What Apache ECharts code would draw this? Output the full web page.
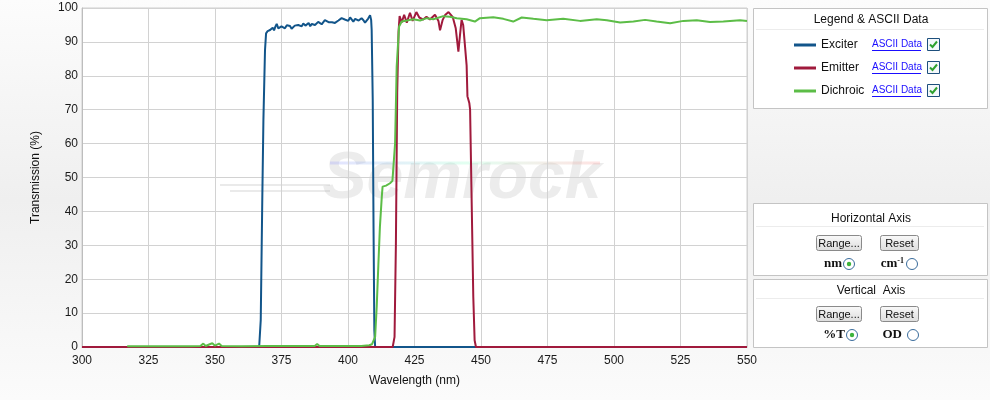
<!DOCTYPE html>
<html>
<head>
<meta charset="utf-8">
<script src="https://cdn.jsdelivr.net/npm/echarts@6/dist/echarts.min.js"></script>
<style>
html,body{margin:0;padding:0;}
#chart{width:990px;height:400px;}
</style>
</head>
<body>
<div id="chart"></div>
<script>
// ---- Data (wavelength nm, transmission %) ----
var seriesNames = ['Exciter', 'Emitter', 'Dichroic'];
var xTicks = [300, 325, 350, 375, 400, 425, 450, 475, 500, 525, 550];
var yTicks = [0, 10, 20, 30, 40, 50, 60, 70, 80, 90, 100];

var exciterWl = [300, 366.6, 367.2, 367.8, 368.2, 368.8, 369.2, 369.8, 370.3, 370.7, 371.2, 371.7, 372.2, 372.7, 373.2, 373.8, 374.4, 375.0, 375.7, 376.3, 377.0, 377.6, 378.2, 378.8, 379.4, 380.0, 380.6, 381.3, 382.0, 382.6, 383.2, 384.0, 384.5, 385.2, 385.8, 386.4, 387.0, 387.6, 388.2, 388.8, 389.5, 390.1, 390.7, 391.3, 392.0, 392.7, 393.3, 394.0, 394.5, 395.1, 395.7, 396.4, 397.0, 397.6, 398.2, 398.8, 399.5, 400.1, 400.8, 401.4, 402.0, 402.7, 403.3, 404.0, 404.6, 405.1, 405.8, 406.4, 407.0, 407.6, 408.3, 408.7, 408.9, 409.3, 409.6, 409.9, 410.2, 550];
var exciterT = [0, 0, 8, 45, 67, 87.6, 92.5, 93.2, 92.8, 93.5, 93.0, 94.2, 93.4, 94.5, 95.3, 94.0, 93.7, 94.6, 94.7, 94.0, 94.9, 94.5, 94.7, 93.9, 94.0, 94.8, 94.5, 95.0, 95.3, 94.6, 95.4, 94.8, 95.0, 95.6, 94.6, 95.3, 95.7, 95.0, 94.7, 95.9, 96.3, 95.2, 95.3, 96.4, 96.5, 95.8, 96.1, 95.8, 96.0, 95.6, 95.7, 96.3, 96.8, 97.0, 96.5, 96.6, 96.7, 96.2, 97.2, 96.8, 96.0, 96.8, 97.2, 96.3, 96.8, 97.0, 96.4, 95.7, 96.2, 96.9, 97.9, 96.5, 93.5, 72.8, 35, 5, 0, 0];

var emitterWl = [300, 416.8, 417.5, 418.0, 418.5, 419.0, 419.4, 420.2, 421.1, 422.1, 423.3, 424.3, 425.7, 426.8, 428.3, 429.5, 430.8, 432.7, 434.0, 434.6, 435.6, 436.5, 437.8, 439.4, 440.5, 441.5, 442.1, 442.7, 443.3, 444.0, 444.6, 444.9, 445.6, 445.9, 446.5, 447.1, 447.6, 448.1, 550];
var emitterT = [0, 0, 3, 30, 75, 93, 97.6, 95.7, 98.0, 95.7, 98.6, 96.2, 98.8, 97.2, 96.6, 97.4, 96.6, 98.0, 96.2, 93.4, 96.5, 97.9, 98.8, 97.3, 94.0, 87.1, 92.0, 96.5, 95.0, 88.6, 83.0, 74.0, 72.0, 70.0, 42.5, 14.8, 2.0, 0, 0];

var dichroicWl = [317, 340, 344.5, 345.6, 346.5, 348.0, 349.0, 350.0, 351.5, 352.5, 360, 370, 387.5, 388.4, 389.3, 405, 408, 409.0, 409.5, 410.2, 410.8, 411.4, 412.0, 412.7, 413.0, 414.3, 415.8, 416.7, 417.7, 418.3, 419.2, 420.2, 422.1, 424.5, 427.1, 429.6, 432.1, 435.8, 438.3, 440.9, 444.6, 447.7, 449.6, 454.6, 458.4, 462.1, 465.3, 469.7, 474.7, 480.9, 487.2, 493.5, 497.3, 502.3, 507.3, 511.7, 516.0, 521.1, 526.1, 531.1, 536.1, 541.1, 547.4, 550];
var dichroicT = [0.2, 0.2, 0.3, 1.0, 0.3, 0.8, 1.1, 0.4, 1.0, 0.3, 0.2, 0.3, 0.3, 0.9, 0.3, 0.3, 0.5, 0.8, 1.2, 3, 12, 24, 35.5, 44.3, 47.3, 47.6, 48.3, 49.0, 60, 82.7, 94.5, 96.0, 96.3, 96.7, 96.3, 97.0, 96.7, 97.6, 97.4, 97.0, 96.7, 96.0, 97.0, 97.3, 96.8, 96.0, 97.2, 96.8, 96.4, 96.8, 96.2, 96.7, 96.4, 95.7, 96.0, 96.5, 96.0, 95.5, 96.2, 96.4, 95.9, 96.0, 96.4, 96.2];

var colors = ['#12558a', '#a01a3c', '#5cbd47'];

function zip(a, b) { return a.map(function (v, i) { return [v, b[i]]; }); }

var FONT = 'Liberation Sans';
var SERIF = 'Liberation Serif';

function panel(x, y, w, h) {
  return { type: 'rect', shape: { x: x + 0.5, y: y + 0.5, width: w, height: h }, style: { fill: '#fff', stroke: '#c4c4c4', lineWidth: 1 }, z: 1 };
}
function hline(x1, x2, y, col) {
  return { type: 'line', shape: { x1: x1, y1: y + 0.5, x2: x2, y2: y + 0.5 }, style: { stroke: col, lineWidth: 1 }, z: 2 };
}
function txt(x, y, s, opts) {
  var st = { text: s, x: x, y: y, fill: opts.fill || '#111', font: opts.font || ('12px ' + FONT), textAlign: opts.align || 'center', textVerticalAlign: 'middle' };
  if (opts.rich) st.rich = opts.rich;
  return { type: 'text', style: st, z: 3 };
}
function button(x, y, w, h, label) {
  return [
    { type: 'rect', shape: { x: x + 0.5, y: y + 0.5, width: w, height: h, r: 2 },
      style: { fill: { type: 'linear', x: 0, y: 0, x2: 0, y2: 1, colorStops: [{ offset: 0, color: '#fafafa' }, { offset: 1, color: '#dcdcdc' }] }, stroke: '#8a8a8a', lineWidth: 1 }, z: 2 },
    txt(x + w / 2 + 0.5, y + h / 2 + 1, label, { font: '11px ' + FONT, fill: '#111' })
  ];
}
function radio(cx, cy, on) {
  var arr = [{ type: 'circle', shape: { cx: cx, cy: cy, r: 5.5 }, style: { fill: '#fff', stroke: '#3a6c9c', lineWidth: 1 }, z: 2 }];
  if (on) arr.push({ type: 'circle', shape: { cx: cx, cy: cy, r: 2.2 }, style: { fill: '#3cb43c' }, z: 3 });
  return arr;
}
function checkbox(x, y) {
  return [
    { type: 'rect', shape: { x: x + 0.5, y: y + 0.5, width: 12, height: 12 }, style: { fill: '#f4f8fb', stroke: '#1d4f7c', lineWidth: 1 }, z: 2 },
    { type: 'polyline', shape: { points: [[x + 3, y + 6.5], [x + 5.5, y + 9], [x + 10, y + 3.5]] }, style: { stroke: '#2fa12f', lineWidth: 2, fill: null }, z: 3 }
  ];
}
function link(x, y) {
  return [
    txt(x, y, 'ASCII Data', { font: '10px ' + FONT, fill: '#1a0dff', align: 'left' }),
    { type: 'line', shape: { x1: x, y1: y + 6.5, x2: x + 49, y2: y + 6.5 }, style: { stroke: '#1a0dff', lineWidth: 1 }, z: 3 }
  ];
}

var graphics = [];
// watermark
graphics.push({ type: 'text', style: { text: 'Semrock', x: 462, y: 180, font: 'italic bold 66px ' + FONT, fill: 'rgba(170,170,170,0.22)', textAlign: 'center', textVerticalAlign: 'middle' }, z: 0, silent: true });
graphics.push({ type: 'line', shape: { x1: 330, y1: 163, x2: 600, y2: 163 }, style: { stroke: { type: 'linear', x: 0, y: 0, x2: 1, y2: 0, colorStops: [{ offset: 0, color: 'rgba(140,140,255,0.25)' }, { offset: 0.5, color: 'rgba(140,255,200,0.25)' }, { offset: 1, color: 'rgba(255,140,140,0.25)' }] }, lineWidth: 3 }, z: 0, silent: true });
graphics.push({ type: 'line', shape: { x1: 220, y1: 185, x2: 330, y2: 185 }, style: { stroke: 'rgba(170,170,170,0.25)', lineWidth: 2 }, z: 0, silent: true });
graphics.push({ type: 'line', shape: { x1: 230, y1: 191, x2: 330, y2: 191 }, style: { stroke: 'rgba(170,170,170,0.25)', lineWidth: 2 }, z: 0, silent: true });

// legend panel
graphics.push(panel(753, 8, 234, 100));
graphics.push(hline(756, 984, 29, '#ececec'));
graphics.push(txt(871, 20, 'Legend & ASCII Data', { font: '12px ' + FONT, fill: '#111' }));
[44, 67, 90].forEach(function (cy) {
  link(872, cy).forEach(function (g) { graphics.push(g); });
  checkbox(927, cy - 6).forEach(function (g) { graphics.push(g); });
});

// horizontal axis panel
graphics.push(panel(753, 203, 234, 72));
graphics.push(hline(756, 984, 226, '#ececec'));
graphics.push(txt(871, 219, 'Horizontal Axis', { font: '12px ' + FONT }));
button(816, 235, 45, 15, 'Range...').forEach(function (g) { graphics.push(g); });
button(880, 235, 38, 15, 'Reset').forEach(function (g) { graphics.push(g); });
graphics.push(txt(842, 264, 'nm', { font: 'bold 13px ' + SERIF, align: 'right' }));
radio(849, 264, true).forEach(function (g) { graphics.push(g); });
graphics.push(txt(904, 264, 'cm{s|-1}', { font: 'bold 13px ' + SERIF, align: 'right', rich: { s: { fontSize: 8, fontWeight: 'bold', fontFamily: SERIF, verticalAlign: 'top', padding: [0, 0, 6, 0], fill: '#111' } } }));
radio(912, 264, false).forEach(function (g) { graphics.push(g); });

// vertical axis panel
graphics.push(panel(753, 279, 234, 68));
graphics.push(hline(756, 984, 298, '#ececec'));
graphics.push(txt(871, 291, 'Vertical  Axis', { font: '12px ' + FONT }));
button(816, 306, 45, 15, 'Range...').forEach(function (g) { graphics.push(g); });
button(880, 306, 38, 15, 'Reset').forEach(function (g) { graphics.push(g); });
graphics.push(txt(845, 335, '%T', { font: 'bold 13px ' + SERIF, align: 'right' }));
radio(852, 335, true).forEach(function (g) { graphics.push(g); });
graphics.push(txt(902, 335, 'OD', { font: 'bold 13px ' + SERIF, align: 'right' }));
radio(913, 335, false).forEach(function (g) { graphics.push(g); });

var chart = echarts.init(document.getElementById('chart'), null, { renderer: 'canvas' });
chart.setOption({
  animation: false,
  backgroundColor: { type: 'linear', x: 0, y: 0, x2: 0, y2: 1, colorStops: [{ offset: 0, color: '#fcfcfc' }, { offset: 0.5, color: '#efefef' }, { offset: 1, color: '#fbfbfb' }] },
  color: colors,
  textStyle: { fontFamily: FONT },
  grid: { left: 82, right: 243, top: 8, bottom: 53, show: true, backgroundColor: '#fff', borderColor: '#cfcfcf', borderWidth: 1 },
  legend: {
    data: seriesNames, orient: 'vertical', left: 794, top: 38, padding: 0, itemWidth: 22, itemHeight: 3, itemGap: 9,
    icon: 'rect', selectedMode: false,
    textStyle: { fontSize: 12, color: '#111', fontFamily: FONT, lineHeight: 14, padding: [0, 0, 0, 0] }
  },
  xAxis: {
    type: 'value', min: xTicks[0], max: xTicks[xTicks.length - 1], interval: 25,
    name: 'Wavelength (nm)', nameLocation: 'middle', nameGap: 28,
    nameTextStyle: { fontSize: 12, color: '#111', fontFamily: FONT },
    axisLine: { show: true, lineStyle: { color: '#bdbdbd' } },
    axisTick: { show: false },
    axisLabel: { fontSize: 12, color: '#1a1a1a', margin: 8, fontFamily: FONT },
    splitLine: { show: true, lineStyle: { color: '#d2d2d2' } }
  },
  yAxis: {
    type: 'value', min: yTicks[0], max: yTicks[yTicks.length - 1], interval: 10,
    name: 'Transmission (%)', nameLocation: 'middle', nameGap: 40, nameRotate: 90,
    nameTextStyle: { fontSize: 12, color: '#111', fontFamily: FONT },
    axisLine: { show: true, lineStyle: { color: '#bdbdbd' } },
    axisTick: { show: false },
    axisLabel: { fontSize: 12, color: '#1a1a1a', margin: 4, fontFamily: FONT },
    splitLine: { show: true, lineStyle: { color: '#d2d2d2' } }
  },
  series: [
    { name: seriesNames[0], type: 'line', data: zip(exciterWl, exciterT), showSymbol: false, symbol: 'none', lineStyle: { width: 2, color: colors[0] }, z: 2 },
    { name: seriesNames[1], type: 'line', data: zip(emitterWl, emitterT), showSymbol: false, symbol: 'none', lineStyle: { width: 2, color: colors[1] }, z: 3 },
    { name: seriesNames[2], type: 'line', data: zip(dichroicWl, dichroicT), showSymbol: false, symbol: 'none', lineStyle: { width: 2, color: colors[2] }, z: 4 }
  ],
  graphic: graphics
});
</script>
</body>
</html>
